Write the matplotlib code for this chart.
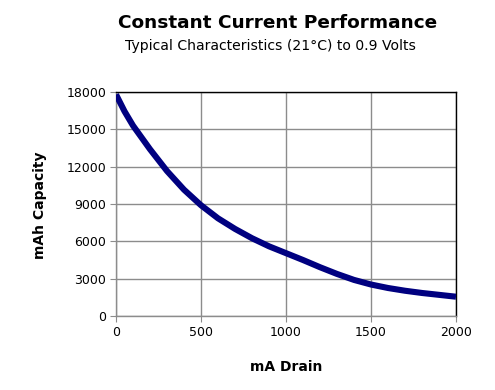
import matplotlib
matplotlib.use("Agg")
import matplotlib.pyplot as plt

drain_ma = [0, 50, 100, 200, 300, 400, 500, 600, 700, 800, 900, 1000,
            1100, 1200, 1300, 1400, 1500, 1600, 1700, 1800, 1900, 2000]
capacity_mah = [17800, 16450, 15300, 13400, 11650, 10150, 8900, 7850, 7000, 6250, 5600, 5050,
                4500, 3920, 3380, 2900, 2530, 2250, 2030, 1850, 1700, 1550]
x_ticks = [0, 500, 1000, 1500, 2000]
y_ticks = [0, 3000, 6000, 9000, 12000, 15000, 18000]

plt.rcParams['font.family'] = ['DejaVu Sans']
fig = plt.figure(figsize=(4.95, 3.9), dpi=100)
ax = fig.add_axes([116/495, 1-316/390, 340/495, 224/390])

ax.plot(drain_ma, capacity_mah, color='#000080', lw=4.4, solid_capstyle='butt',
        solid_joinstyle='round', zorder=3)
ax.set_xlim(0, 2000)
ax.set_ylim(0, 18000)
ax.set_xticks(x_ticks)
ax.set_yticks(y_ticks)
ax.set_xticklabels([str(v) for v in x_ticks])
ax.set_yticklabels([str(v) for v in y_ticks])
ax.grid(True, color='#8c8c8c', lw=1.0)
ax.set_axisbelow(True)
ax.tick_params(axis='both', direction='out', length=4, color='#8c8c8c', labelsize=9, pad=3)
for s in ['left', 'bottom']:
    ax.spines[s].set_color('#8c8c8c')
for s in ['top', 'right']:
    ax.spines[s].set_color('black')
for s in ax.spines.values():
    s.set_linewidth(1.0)

fig.text(278/495, 1-23/390, 'Constant Current Performance', ha='center', va='center',
         fontsize=13.3, fontweight='bold')
fig.text(270/495, 1-46/390, 'Typical Characteristics (21°C) to 0.9 Volts', ha='center', va='center',
         fontsize=10.1)
fig.text(286/495, 1-367/390, 'mA Drain', ha='center', va='center', fontsize=10, fontweight='bold')
fig.text(40/495, 1-205/390, 'mAh Capacity', ha='center', va='center', fontsize=10,
         fontweight='bold', rotation=90)

fig.savefig('out.png', dpi=100)
